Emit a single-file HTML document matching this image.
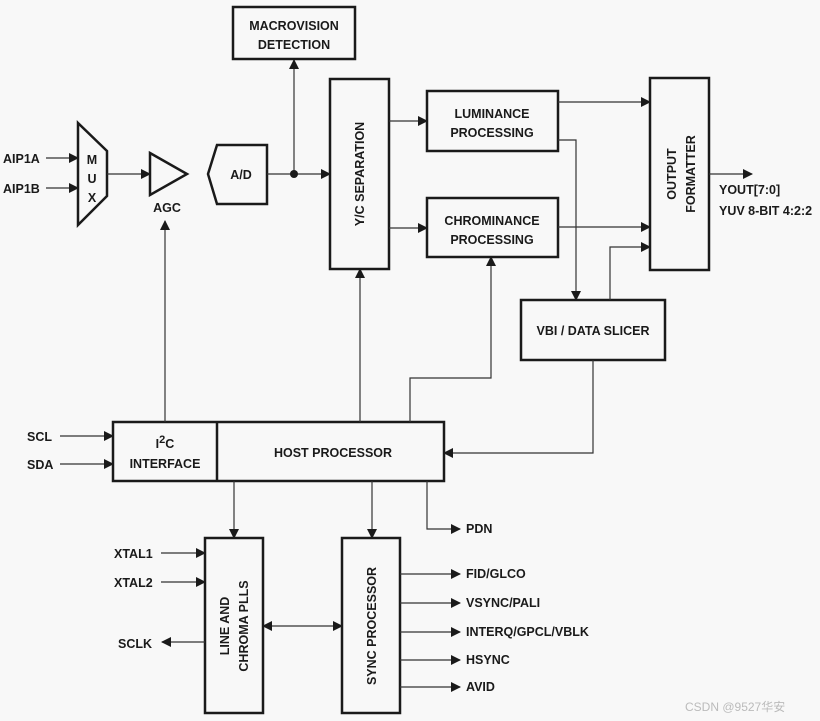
<!DOCTYPE html>
<html><head><style>
body{margin:0;background:#f8f8f8;}
svg{display:block}
text{font-family:"Liberation Sans",Arial,sans-serif;font-weight:bold;font-size:12.5px;fill:#1a1a1a}
</style></head><body>
<svg width="820" height="721" viewBox="0 0 820 721">
<defs>
<marker id="a" markerWidth="10" markerHeight="10" refX="9" refY="5" orient="auto-start-reverse" markerUnits="userSpaceOnUse"><path d="M0,0 L10,5 L0,10 z" fill="#1a1a1a"/></marker>
</defs>
<g fill="none" stroke="#1a1a1a" stroke-width="2.5">
<rect x="233" y="7" width="122" height="52"/>
<rect x="330" y="79" width="59" height="190"/>
<rect x="427" y="91" width="131" height="60"/>
<rect x="427" y="198" width="131" height="59"/>
<rect x="650" y="78" width="59" height="192"/>
<rect x="521" y="300" width="144" height="60"/>
<rect x="113" y="422" width="331" height="59"/>
<line x1="217" y1="422" x2="217" y2="481"/>
<rect x="205" y="538" width="58" height="175"/>
<rect x="342" y="538" width="58" height="175"/>
<path d="M78,123 L107,151 L107,196 L78,225 Z"/>
<path d="M150,153 L187,174 L150,195 Z"/>
<path d="M217,145 L267,145 L267,204 L217,204 L208,174 Z"/>
</g>
<g fill="none" stroke="#333" stroke-width="1.2" marker-end="url(#a)">
<line x1="46" y1="158" x2="78" y2="158"/>
<line x1="46" y1="188" x2="78" y2="188"/>
<line x1="107" y1="174" x2="150" y2="174"/>
<line x1="267" y1="174" x2="330" y2="174"/>
<line x1="294" y1="174" x2="294" y2="60"/>
<line x1="389" y1="121" x2="427" y2="121"/>
<line x1="389" y1="228" x2="427" y2="228"/>
<line x1="558" y1="102" x2="650" y2="102"/>
<line x1="558" y1="227" x2="650" y2="227"/>
<path d="M558,140 L576,140 L576,300"/>
<path d="M610,300 L610,247 L650,247"/>
<line x1="709" y1="174" x2="752" y2="174"/>
<path d="M593,360 L593,453 L444,453"/>
<line x1="165" y1="422" x2="165" y2="221"/>
<line x1="360" y1="422" x2="360" y2="269"/>
<path d="M410,422 L410,378 L491,378 L491,257"/>
<line x1="60" y1="436" x2="113" y2="436"/>
<line x1="60" y1="464" x2="113" y2="464"/>
<line x1="234" y1="481" x2="234" y2="538"/>
<line x1="372" y1="481" x2="372" y2="538"/>
<path d="M427,481 L427,529 L460,529"/>
<line x1="161" y1="553" x2="205" y2="553"/>
<line x1="161" y1="582" x2="205" y2="582"/>
<line x1="205" y1="642" x2="162" y2="642"/>
<line x1="263" y1="626" x2="342" y2="626" marker-start="url(#a)"/>
<line x1="400" y1="574" x2="460" y2="574"/>
<line x1="400" y1="603" x2="460" y2="603"/>
<line x1="400" y1="632" x2="460" y2="632"/>
<line x1="400" y1="660" x2="460" y2="660"/>
<line x1="400" y1="687" x2="460" y2="687"/>
</g>
<circle cx="294" cy="174" r="4" fill="#1a1a1a"/>
<g text-anchor="middle">
<text x="294" y="30">MACROVISION</text>
<text x="294" y="49">DETECTION</text>
<text x="492" y="118">LUMINANCE</text>
<text x="492" y="137">PROCESSING</text>
<text x="492" y="225">CHROMINANCE</text>
<text x="492" y="244">PROCESSING</text>
<text x="593" y="335">VBI / DATA SLICER</text>
<text x="92" y="164">M</text>
<text x="92" y="183">U</text>
<text x="92" y="202">X</text>
<text x="167" y="212">AGC</text>
<text x="241" y="179">A/D</text>
<text x="165" y="448">I<tspan dy="-5" font-size="11">2</tspan><tspan dy="5">C</tspan></text>
<text x="165" y="468">INTERFACE</text>
<text x="333" y="457">HOST PROCESSOR</text>
<text transform="translate(364,174) rotate(-90)">Y/C SEPARATION</text>
<text transform="translate(676,174) rotate(-90)">OUTPUT</text>
<text transform="translate(695,174) rotate(-90)">FORMATTER</text>
<text transform="translate(229,626) rotate(-90)">LINE AND</text>
<text transform="translate(248,626) rotate(-90)">CHROMA PLLS</text>
<text transform="translate(376,626) rotate(-90)">SYNC PROCESSOR</text>
</g>
<text x="3" y="163">AIP1A</text>
<text x="3" y="193">AIP1B</text>
<text x="27" y="441">SCL</text>
<text x="27" y="469">SDA</text>
<text x="719" y="194">YOUT[7:0]</text>
<text x="719" y="215">YUV 8-BIT 4:2:2</text>
<text x="114" y="558">XTAL1</text>
<text x="114" y="587">XTAL2</text>
<text x="118" y="648">SCLK</text>
<text x="466" y="533">PDN</text>
<text x="466" y="578">FID/GLCO</text>
<text x="466" y="607">VSYNC/PALI</text>
<text x="466" y="636">INTERQ/GPCL/VBLK</text>
<text x="466" y="664">HSYNC</text>
<text x="466" y="691">AVID</text>
<text x="685" y="711" style="font-weight:normal;fill:#bbb;font-family:'Liberation Sans','Noto Sans CJK SC',sans-serif;font-size:12px">CSDN @9527华安</text>
</svg>
</body></html>
